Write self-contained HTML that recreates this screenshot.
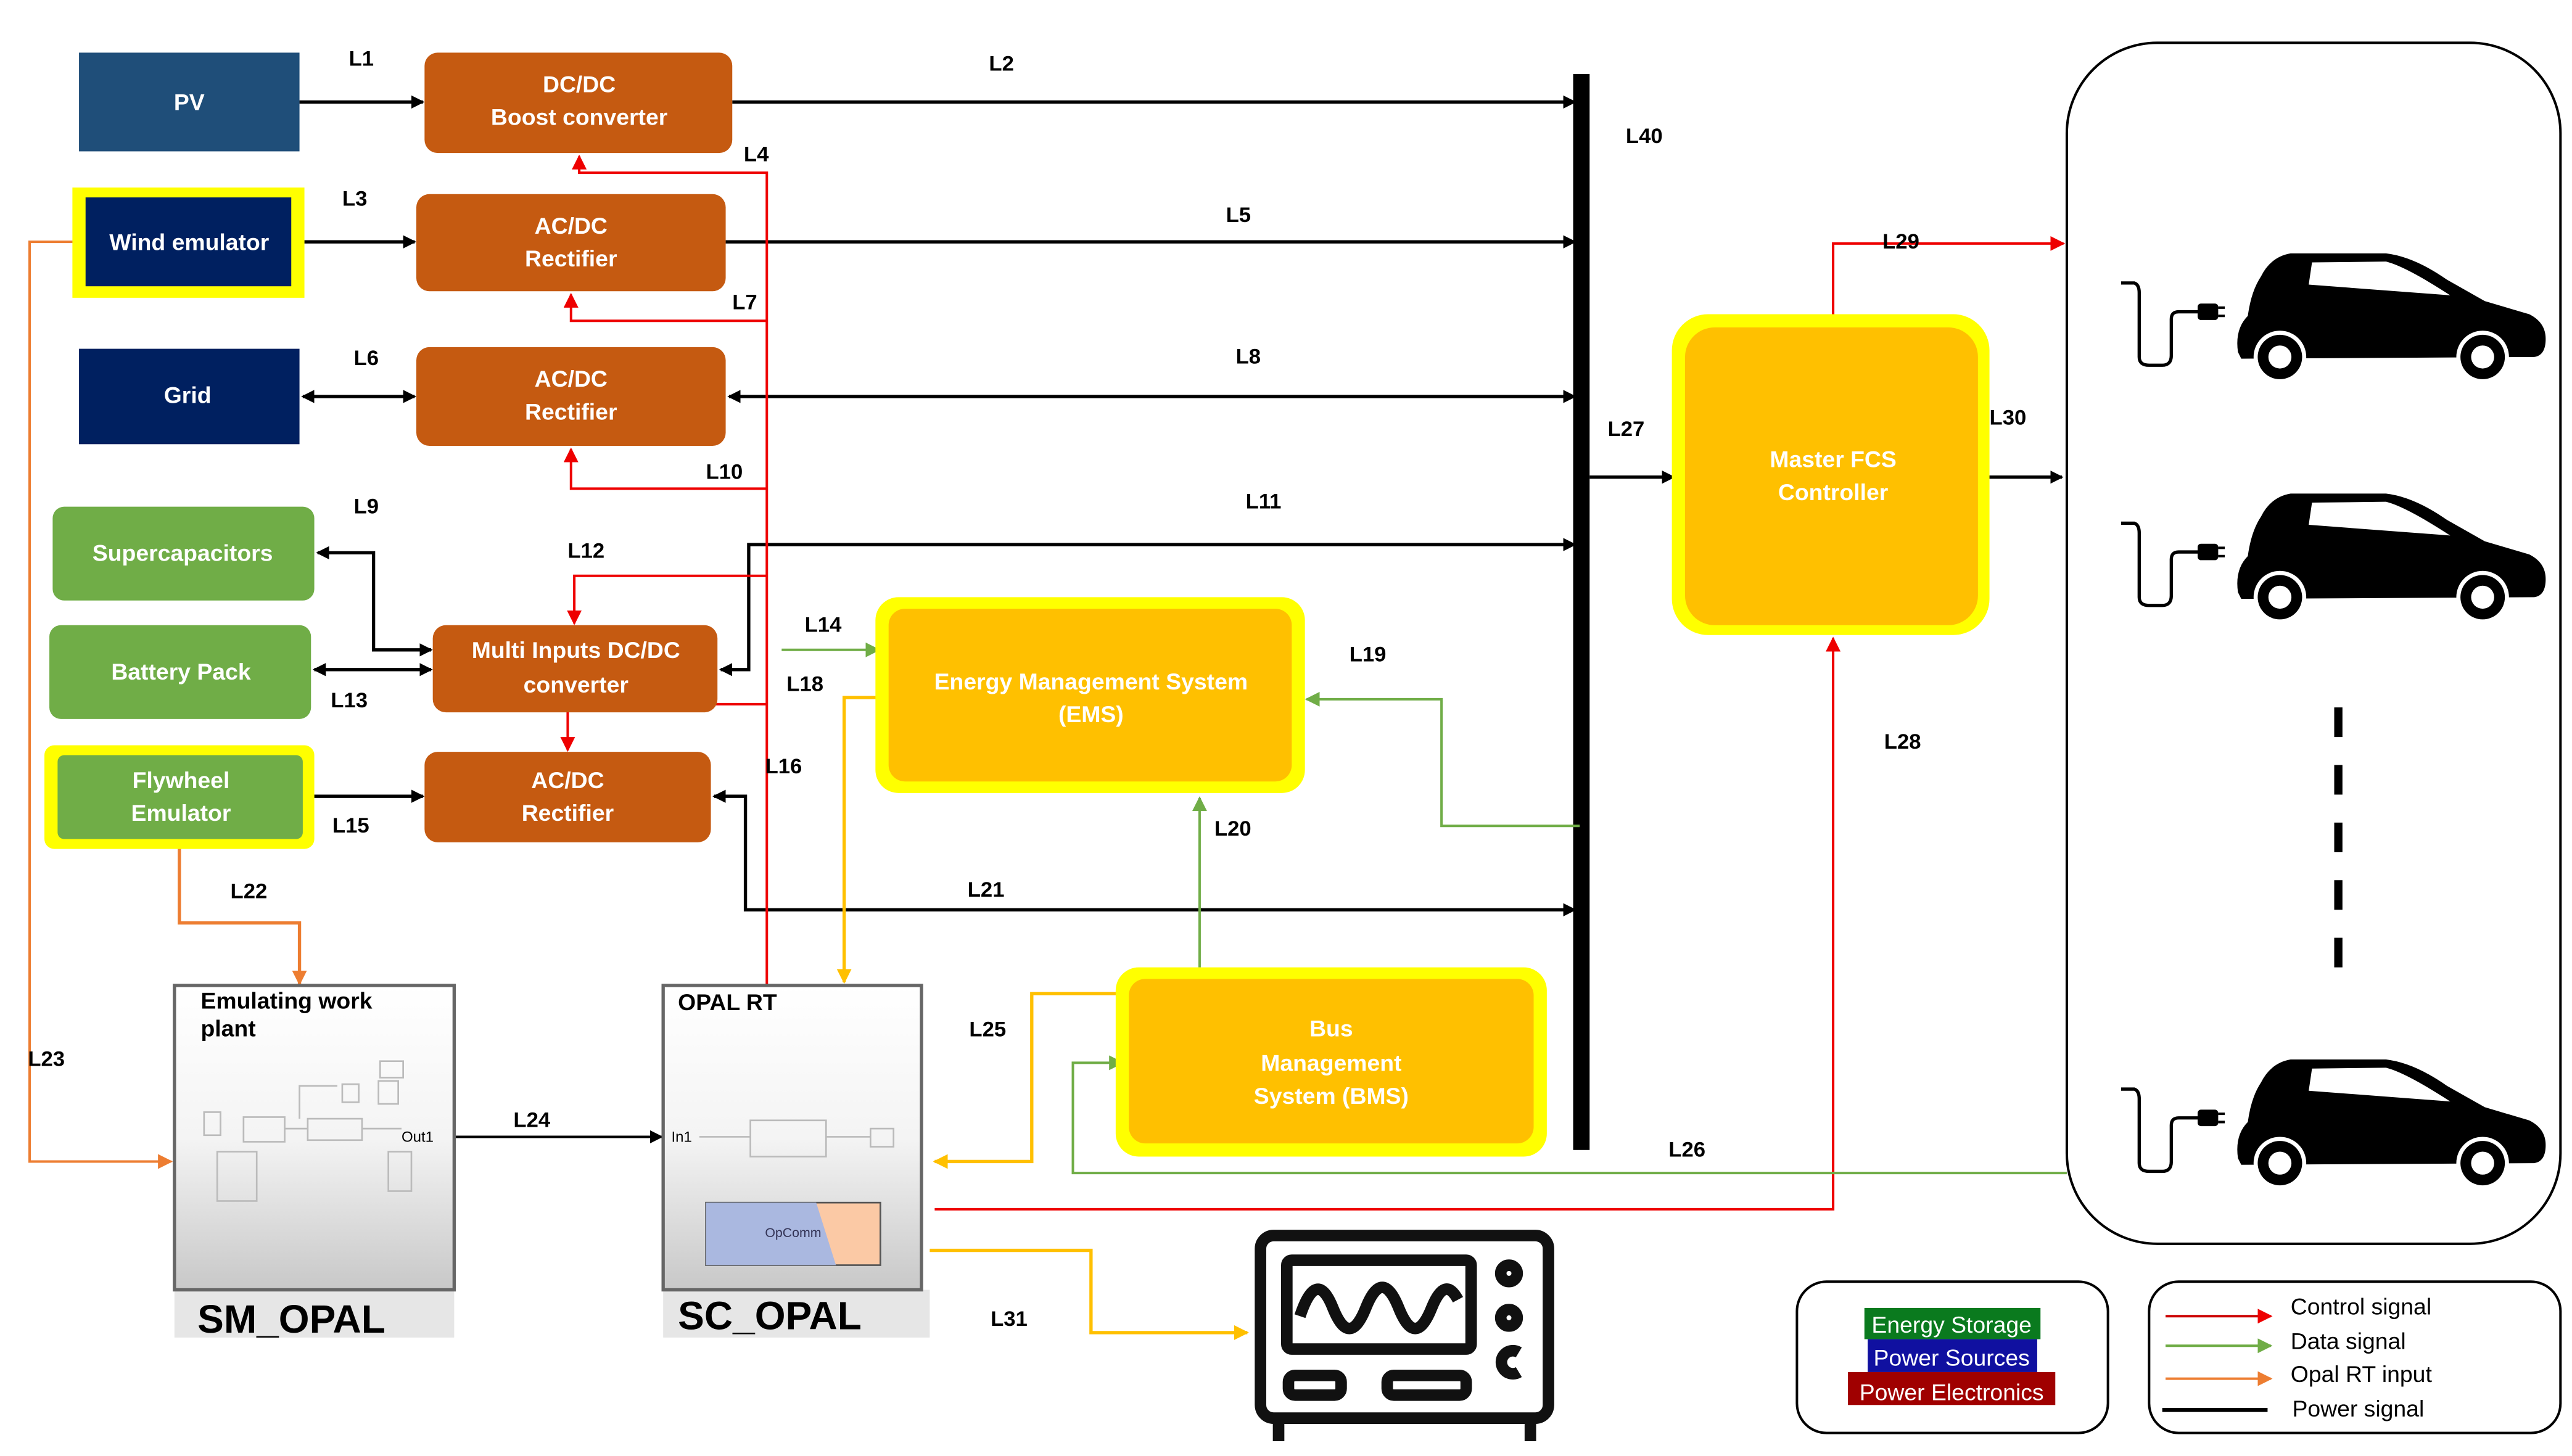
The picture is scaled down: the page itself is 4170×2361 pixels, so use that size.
<!DOCTYPE html>
<html><head><meta charset="utf-8"><style>
html,body{margin:0;padding:0;background:#fff;}
svg{display:block;}
text{font-family:"Liberation Sans",sans-serif;}
</style></head><body>
<svg width="4170" height="2361" viewBox="0 0 1563 885" preserveAspectRatio="none" xmlns="http://www.w3.org/2000/svg">
<defs>
<marker id="ab" markerWidth="8" markerHeight="8" refX="7" refY="4" orient="auto" markerUnits="userSpaceOnUse"><path d="M0,0 L8,4 L0,8 z" fill="#000"/></marker>
<marker id="abs" markerWidth="8" markerHeight="8" refX="1" refY="4" orient="auto" markerUnits="userSpaceOnUse"><path d="M8,0 L0,4 L8,8 z" fill="#000"/></marker>
<marker id="ar" markerWidth="9" markerHeight="9" refX="8" refY="4.5" orient="auto" markerUnits="userSpaceOnUse"><path d="M0,0 L9,4.5 L0,9 z" fill="#e00"/></marker>
<marker id="ag" markerWidth="9" markerHeight="9" refX="8" refY="4.5" orient="auto" markerUnits="userSpaceOnUse"><path d="M0,0 L9,4.5 L0,9 z" fill="#70ad47"/></marker>
<marker id="ao" markerWidth="9" markerHeight="9" refX="8" refY="4.5" orient="auto" markerUnits="userSpaceOnUse"><path d="M0,0 L9,4.5 L0,9 z" fill="#ed7d31"/></marker>
<marker id="ay" markerWidth="9" markerHeight="9" refX="8" refY="4.5" orient="auto" markerUnits="userSpaceOnUse"><path d="M0,0 L9,4.5 L0,9 z" fill="#ffc000"/></marker>
<linearGradient id="gg" x1="0" y1="0" x2="0" y2="1"><stop offset="0" stop-color="#fff"/><stop offset="0.5" stop-color="#f4f4f4"/><stop offset="1" stop-color="#c8c8c8"/></linearGradient>
<g id="car">
<path d="M78,72 Q76,58 84,50 Q86,35 92,26 Q98,14 110,12 L168,12 Q185,14 205,28 L228,41 L255,49 Q265,54 265,64 Q265,74 258,75 L80,76 z" fill="#000"/>
<path d="M123,17.5 L168,17 Q180,20 207,37.5 L121,31 z" fill="#fff"/>
<circle cx="103.5" cy="75" r="16" fill="#fff"/><circle cx="226.7" cy="75" r="16" fill="#fff"/>
<circle cx="103.5" cy="75" r="13.5" fill="#000"/><circle cx="103.5" cy="75" r="7" fill="#fff"/>
<circle cx="226.7" cy="75" r="13.5" fill="#000"/><circle cx="226.7" cy="75" r="7" fill="#fff"/>
<path d="M7,30 L15,30 Q18,31 18,36 L18,75 Q18,80 24,80 L32,80 Q37.5,80 37.5,74 L37.5,52 Q37.5,47.5 42,47.5 L54,47.5" fill="none" stroke="#000" stroke-width="2"/>
<rect x="53.5" y="42.5" width="12.5" height="10" rx="2" fill="#000"/>
<path d="M66,45 L70,45 M66,50 L70,50" stroke="#000" stroke-width="1.5"/>
</g>
</defs>

<!-- power lines -->
<g stroke="#000" stroke-width="2" fill="none">
<line x1="182" y1="62" x2="257" y2="62" marker-end="url(#ab)"/>
<line x1="445" y1="62" x2="957" y2="62" marker-end="url(#ab)"/>
<line x1="185" y1="147" x2="252" y2="147" marker-end="url(#ab)"/>
<line x1="441" y1="147" x2="957" y2="147" marker-end="url(#ab)"/>
<line x1="184" y1="241" x2="252" y2="241" marker-start="url(#abs)" marker-end="url(#ab)"/>
<line x1="443" y1="241" x2="957" y2="241" marker-start="url(#abs)" marker-end="url(#ab)"/>
<polyline points="438,407 455,407 455,331 957,331" marker-start="url(#abs)" marker-end="url(#ab)"/>
<polyline points="434,484 453,484 453,553 957,553" marker-start="url(#abs)" marker-end="url(#ab)"/>
<polyline points="193,336 227,336 227,395 262,395" marker-start="url(#abs)" marker-end="url(#ab)"/>
<line x1="191" y1="407" x2="262" y2="407" marker-start="url(#abs)" marker-end="url(#ab)"/>
<line x1="191" y1="484" x2="257" y2="484" marker-end="url(#ab)"/>
<line x1="966" y1="290" x2="1017" y2="290" marker-end="url(#ab)"/>
<line x1="1209" y1="290" x2="1253" y2="290" marker-end="url(#ab)"/>
<line x1="276" y1="691" x2="402" y2="691" stroke-width="1.5" marker-end="url(#ab)"/>
</g>
<rect x="956" y="45" width="10" height="654" fill="#000"/>

<!-- red control -->
<g stroke="#e00" stroke-width="1.5" fill="none">
<polyline points="466,600 466,105 352,105 352,95" marker-end="url(#ar)"/>
<polyline points="466,195 347,195 347,179" marker-end="url(#ar)"/>
<polyline points="466,297 347,297 347,273" marker-end="url(#ar)"/>
<polyline points="466,350 349,350 349,379" marker-end="url(#ar)"/>
<polyline points="466,428 345,428 345,456" marker-end="url(#ar)"/>
<polyline points="568,735 1114,735 1114,388" marker-end="url(#ar)"/>
<polyline points="1114,192 1114,148 1254,148" marker-end="url(#ar)"/>
</g>
<!-- green data -->
<g stroke="#70ad47" stroke-width="1.5" fill="none">
<line x1="475" y1="395" x2="534" y2="395" marker-end="url(#ag)"/>
<polyline points="960,502 876,502 876,425 794,425" marker-end="url(#ag)"/>
<line x1="729" y1="588" x2="729" y2="485" marker-end="url(#ag)"/>
<polyline points="1256,713 652,713 652,646 682,646" marker-end="url(#ag)"/>
</g>
<!-- orange / gold -->
<g stroke-width="2" fill="none">
<polyline points="109,516 109,561 182,561 182,598" stroke="#ed7d31" marker-end="url(#ao)"/>
<polyline points="52,147 18,147 18,706 104,706" stroke="#ed7d31" stroke-width="1.5" marker-end="url(#ao)"/>
<polyline points="540,424 513,424 513,597" stroke="#ffc000" marker-end="url(#ay)"/>
<polyline points="686,604 627,604 627,706 568,706" stroke="#ffc000" marker-end="url(#ay)"/>
<polyline points="565,760 663,760 663,810 758,810" stroke="#ffc000" marker-end="url(#ay)"/>
</g>

<!-- source boxes -->
<rect x="48" y="32" width="134" height="60" fill="#1f4e79"/>
<text x="115" y="67" fill="#fff" font-size="14" font-weight="bold" text-anchor="middle">PV</text>
<rect x="44" y="114" width="141" height="67" fill="#ffff00"/>
<rect x="52" y="120" width="125" height="54" fill="#002060"/>
<text x="115" y="152" fill="#fff" font-size="14" font-weight="bold" text-anchor="middle">Wind emulator</text>
<rect x="48" y="212" width="134" height="58" fill="#002060"/>
<text x="114" y="245" fill="#fff" font-size="14" font-weight="bold" text-anchor="middle">Grid</text>
<rect x="32" y="308" width="159" height="57" rx="7" fill="#70ad47"/>
<text x="111" y="341" fill="#fff" font-size="14" font-weight="bold" text-anchor="middle">Supercapacitors</text>
<rect x="30" y="380" width="159" height="57" rx="7" fill="#70ad47"/>
<text x="110" y="413" fill="#fff" font-size="14" font-weight="bold" text-anchor="middle">Battery Pack</text>
<rect x="27" y="453" width="164" height="63" rx="6" fill="#ffff00"/>
<rect x="35" y="459" width="149" height="51" rx="4" fill="#70ad47"/>
<text x="110" y="479" fill="#fff" font-size="14" font-weight="bold" text-anchor="middle">Flywheel</text>
<text x="110" y="499" fill="#fff" font-size="14" font-weight="bold" text-anchor="middle">Emulator</text>

<!-- converters -->
<g fill="#c55a11">
<rect x="258" y="32" width="187" height="61" rx="8"/>
<rect x="253" y="118" width="188" height="59" rx="8"/>
<rect x="253" y="211" width="188" height="60" rx="8"/>
<rect x="263" y="380" width="173" height="53" rx="8"/>
<rect x="258" y="457" width="174" height="55" rx="8"/>
</g>
<g fill="#fff" font-size="14" font-weight="bold" text-anchor="middle">
<text x="352" y="56">DC/DC</text><text x="352" y="76">Boost converter</text>
<text x="347" y="142">AC/DC</text><text x="347" y="162">Rectifier</text>
<text x="347" y="235">AC/DC</text><text x="347" y="255">Rectifier</text>
<text x="350" y="400">Multi Inputs DC/DC</text><text x="350" y="421">converter</text>
<text x="345" y="479">AC/DC</text><text x="345" y="499">Rectifier</text>
</g>

<!-- EMS BMS FCS -->
<rect x="532" y="363" width="261" height="119" rx="14" fill="#ffff00"/>
<rect x="540" y="370" width="245" height="105" rx="10" fill="#ffc000"/>
<text x="663" y="419" fill="#fff" font-size="14" font-weight="bold" text-anchor="middle">Energy Management System</text>
<text x="663" y="439" fill="#fff" font-size="14" font-weight="bold" text-anchor="middle">(EMS)</text>
<rect x="678" y="588" width="262" height="115" rx="14" fill="#ffff00"/>
<rect x="686" y="595" width="246" height="100" rx="10" fill="#ffc000"/>
<g fill="#fff" font-size="14" font-weight="bold" text-anchor="middle">
<text x="809" y="630">Bus</text><text x="809" y="651">Management</text><text x="809" y="671">System (BMS)</text>
</g>
<rect x="1016" y="191" width="193" height="195" rx="22" fill="#ffff00"/>
<rect x="1024" y="199" width="178" height="181" rx="18" fill="#ffc000"/>
<text x="1114" y="284" fill="#fff" font-size="14" font-weight="bold" text-anchor="middle">Master FCS</text>
<text x="1114" y="304" fill="#fff" font-size="14" font-weight="bold" text-anchor="middle">Controller</text>

<!-- OPAL boxes -->
<rect x="106" y="784" width="170" height="29" fill="#e6e6e6"/>
<rect x="403" y="784" width="162" height="29" fill="#e6e6e6"/>
<rect x="106" y="599" width="170" height="185" fill="url(#gg)" stroke="#666" stroke-width="2"/>
<rect x="403" y="599" width="157" height="185" fill="url(#gg)" stroke="#666" stroke-width="2"/>
<text x="122" y="613" font-size="14" font-weight="bold">Emulating work</text>
<text x="122" y="630" font-size="14" font-weight="bold">plant</text>
<text x="412" y="614" font-size="14" font-weight="bold">OPAL RT</text>
<g fill="none" stroke="#bbb" stroke-width="1">
<rect x="124" y="676" width="10" height="14"/><rect x="148" y="679" width="25" height="15"/>
<rect x="187" y="680" width="33" height="13"/><rect x="132" y="700" width="24" height="30"/>
<rect x="236" y="700" width="14" height="24"/><rect x="208" y="659" width="10" height="11"/>
<rect x="231" y="645" width="14" height="10"/><rect x="230" y="657" width="12" height="14"/>
<polyline points="182,680 182,660 205,660"/><polyline points="173,686 187,686"/><polyline points="220,686 244,686"/>
<rect x="456" y="681" width="46" height="22"/><rect x="529" y="686" width="14" height="11"/>
<line x1="425" y1="691" x2="456" y2="691"/><line x1="502" y1="691" x2="529" y2="691"/>
</g>
<text x="244" y="694" font-size="9">Out1</text>
<text x="408" y="694" font-size="9">In1</text>
<rect x="429" y="731" width="106" height="38" fill="#fbc9a5" stroke="#555"/>
<polygon points="429,731 496,731 508,769 429,769" fill="#aab8e0"/>
<text x="482" y="752" font-size="8" fill="#335" text-anchor="middle">OpComm</text>
<text x="120" y="810" font-size="24" font-weight="bold">SM_OPAL</text>
<text x="412" y="808" font-size="24" font-weight="bold">SC_OPAL</text>

<!-- monitor -->
<g fill="none" stroke="#111" stroke-width="7">
<rect x="766" y="751" width="175" height="111" rx="8"/>
<rect x="782" y="766" width="112" height="54" rx="3"/>
<path d="M790,800 Q800,770 810,795 Q820,820 830,795 Q840,770 850,795 Q860,820 870,795 Q878,775 886,790"/>
<rect x="783" y="836" width="32" height="12" rx="4"/><rect x="843" y="836" width="48" height="12" rx="4"/>
<circle cx="917" cy="774" r="5"/><circle cx="917" cy="801" r="5"/><path d="M923,822 A7,7 0 1,0 923,834"/>
<line x1="777" y1="865" x2="777" y2="876"/><line x1="930" y1="865" x2="930" y2="876"/>
</g>

<!-- cars container -->
<rect x="1256" y="26" width="300" height="730" rx="55" fill="none" stroke="#000" stroke-width="1.5"/>
<use href="#car" transform="translate(1282,142)"/>
<use href="#car" transform="translate(1282,288)"/>
<use href="#car" transform="translate(1282,632)"/>
<line x1="1421" y1="430" x2="1421" y2="592" stroke="#000" stroke-width="5" stroke-dasharray="18,17"/>

<!-- legends -->
<rect x="1092" y="779" width="189" height="92" rx="18" fill="#fff" stroke="#000" stroke-width="1.5"/>
<rect x="1133" y="795" width="107" height="19" fill="#0a7a1e"/>
<rect x="1135" y="814" width="103" height="20" fill="#1010a0"/>
<rect x="1123" y="834" width="126" height="20" fill="#a00000"/>
<g fill="#fff" font-size="14" text-anchor="middle"><text x="1186" y="810">Energy Storage</text><text x="1186" y="830">Power Sources</text><text x="1186" y="851">Power Electronics</text></g>
<rect x="1306" y="779" width="250" height="92" rx="18" fill="#fff" stroke="#000" stroke-width="1.5"/>
<line x1="1316" y1="800" x2="1380" y2="800" stroke="#c00" stroke-width="1.5" marker-end="url(#ar)"/>
<line x1="1316" y1="818" x2="1380" y2="818" stroke="#70ad47" stroke-width="1.5" marker-end="url(#ag)"/>
<line x1="1316" y1="838" x2="1380" y2="838" stroke="#ed7d31" stroke-width="1.5" marker-end="url(#ao)"/>
<line x1="1314" y1="857" x2="1378" y2="857" stroke="#000" stroke-width="2.5"/>
<g font-size="14"><text x="1392" y="799">Control signal</text><text x="1392" y="820">Data signal</text><text x="1392" y="840">Opal RT input</text><text x="1393" y="861">Power signal</text></g>

<!-- line labels -->
<g font-size="13" font-weight="bold">
<text x="212" y="40">L1</text><text x="601" y="43">L2</text><text x="208" y="125">L3</text><text x="452" y="98">L4</text>
<text x="745" y="135">L5</text><text x="215" y="222">L6</text><text x="445" y="188">L7</text><text x="751" y="221">L8</text>
<text x="215" y="312">L9</text><text x="429" y="291">L10</text><text x="757" y="309">L11</text><text x="345" y="339">L12</text>
<text x="201" y="430">L13</text><text x="489" y="384">L14</text><text x="202" y="506">L15</text><text x="465" y="470">L16</text>
<text x="478" y="420">L18</text><text x="820" y="402">L19</text><text x="738" y="508">L20</text><text x="588" y="545">L21</text>
<text x="140" y="546">L22</text><text x="17" y="648">L23</text><text x="312" y="685">L24</text><text x="589" y="630">L25</text>
<text x="1014" y="703">L26</text><text x="977" y="265">L27</text><text x="1145" y="455">L28</text><text x="1144" y="151">L29</text>
<text x="1209" y="258">L30</text><text x="602" y="806">L31</text><text x="988" y="87">L40</text>
</g>
</svg>
</body></html>
